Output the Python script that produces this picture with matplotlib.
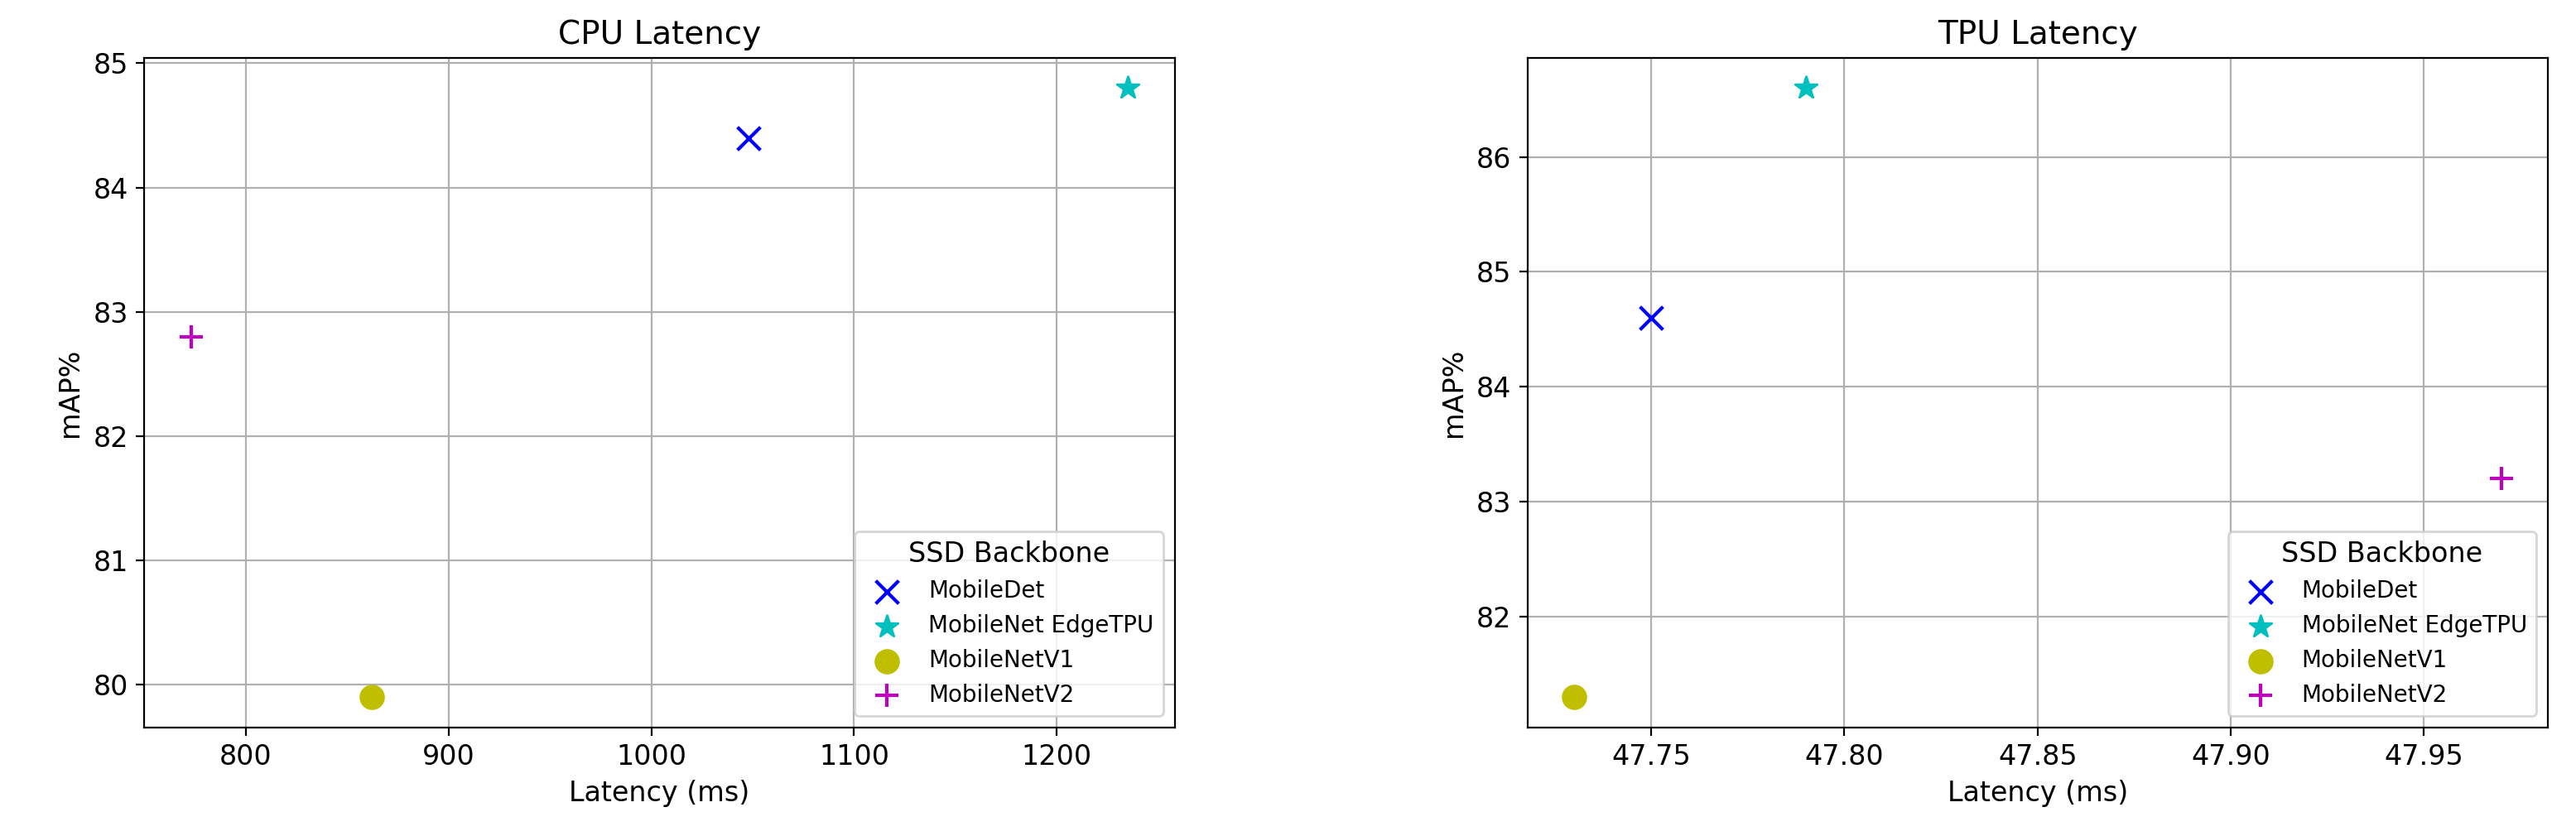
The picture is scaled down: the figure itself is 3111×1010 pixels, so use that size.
import matplotlib
matplotlib.use("Agg")
import matplotlib.pyplot as plt

names = ["MobileDet", "MobileNet EdgeTPU", "MobileNetV1", "MobileNetV2"]
cpu_lat = [1048, 1235, 862, 773]
cpu_map = [84.4, 84.8, 79.9, 82.8]
tpu_lat = [47.75, 47.79, 47.73, 47.97]
tpu_map = [84.6, 86.6, 81.3, 83.2]

markers = ["x", "*", "o", "+"]
colors = ["b", "c", "y", "m"]

fig = plt.figure(figsize=(15.555, 5.05), dpi=200)
ax1 = fig.add_axes([0.056, 0.130, 0.400, 0.801])
ax2 = fig.add_axes([0.593, 0.130, 0.396, 0.801])

for ax, lat, mp, title in [(ax1, cpu_lat, cpu_map, "CPU Latency"), (ax2, tpu_lat, tpu_map, "TPU Latency")]:
    for n, x, y, m, c in zip(names, lat, mp, markers, colors):
        ax.scatter([x], [y], marker=m, color=c, s=100, label=n, zorder=3)
    ax.grid(True, color="#b0b0b0")
    ax.set_axisbelow(True)
    ax.set_title(title, fontsize=14)
    ax.set_xlabel("Latency (ms)", fontsize=12)
    ax.set_ylabel("mAP%", fontsize=12)
    ax.tick_params(labelsize=12)
    leg = ax.legend(title="SSD Backbone", loc="lower right", fontsize=10, title_fontsize=12)

ax2.set_xticks([47.75, 47.80, 47.85, 47.90, 47.95])
ax2.set_xticklabels(["47.75", "47.80", "47.85", "47.90", "47.95"])

fig.savefig("out.png", dpi=200)
